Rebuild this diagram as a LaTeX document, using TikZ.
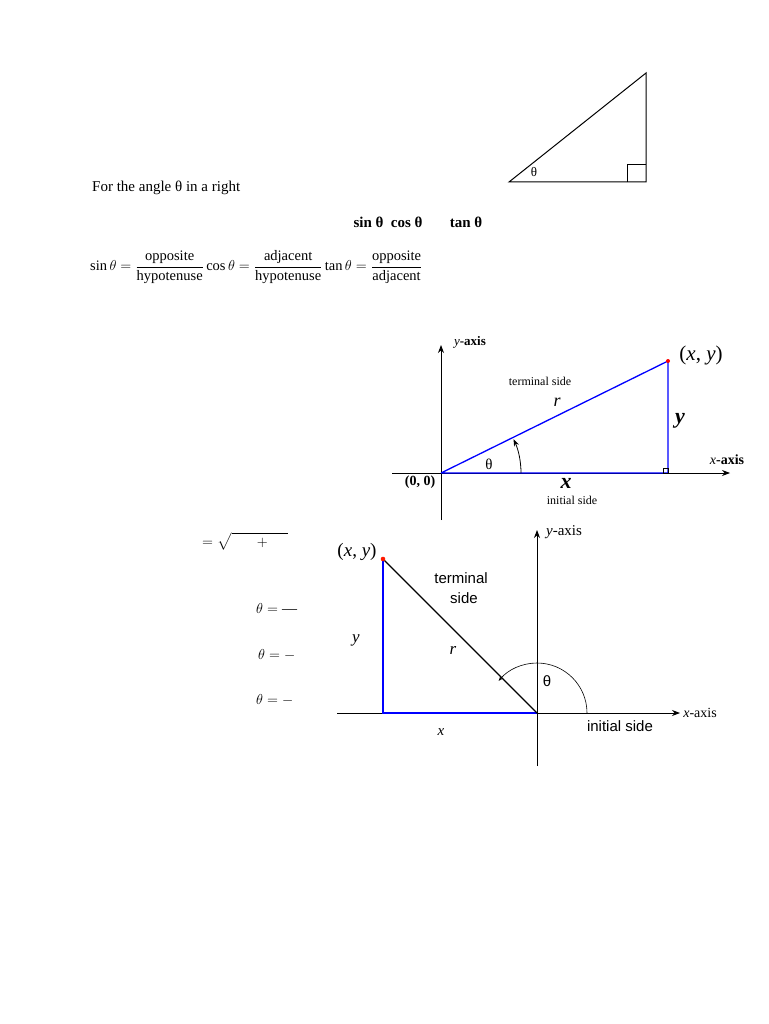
\documentclass[tikz,border=0pt]{standalone}
\usepackage{amsmath}
\usepackage{fontspec}
\setmainfont{Liberation Serif}
\newfontfamily\arialf{Liberation Sans}
\newcommand{\fs}[1]{\fontsize{#1}{#1}\selectfont}
\usetikzlibrary{arrows.meta}
\begin{document}
\begin{tikzpicture}[x=1pt,y=-1pt,
  ln/.style={line width=1pt},
  bl/.style={blue,line width=1.3pt},
  ax/.style={line width=0.8pt,-{Stealth[length=8pt,width=6pt]}},
  t/.style={inner sep=0pt}]
\useasboundingbox (0,0) rectangle (768,1024);
% triangle 1
\coordinate (A) at (509,182); \coordinate (B) at (646,73); \coordinate (C) at (646,182);
\draw[ln] (A) -- (B) -- (C) -- cycle;
\draw[line width=0.8pt] (627,182) -- (627,164) -- (646,164);
\node[t] (th1) at (534,172) {\fs{13}θ};
\node[t,anchor=west] (l1) at (92,188) {\fs{15}For the angle θ in a right};
\node[t] (sc) at (388,222) {\fs{15}\textbf{sin θ\ \ cos θ}};
\node[t] (tn) at (466,222) {\fs{15}\textbf{tan θ}};
\node[t,anchor=west] (f) at (90,267) {\fs{14.5}$\sin\theta=\dfrac{\text{opposite}}{\text{hypotenuse}}\cos\theta=\dfrac{\text{adjacent}}{\text{hypotenuse}}\tan\theta=\dfrac{\text{opposite}}{\text{adjacent}}$};
% diagram 2
\coordinate (O) at (441,473); \coordinate (P) at (668,361); \coordinate (Q) at (668,473);
\coordinate (ya0) at (441,520); \coordinate (ya1) at (441,345);
\coordinate (xa0) at (392,473); \coordinate (xa1) at (730,473);
\draw[ax] (ya0) -- (ya1);
\draw[ax] (xa0) -- (xa1);
\draw[bl] (O) -- (P) -- (Q) -- (O);
\draw[line width=0.6pt] (663,473) rectangle (668,468);
\fill[red] (P) circle (2pt);
\draw[line width=0.8pt,-{Stealth[length=7pt,width=5pt]}] (521,473) arc[start angle=0,end angle=-25,radius=80];
\node[t] (yax) at (470,342) {\fs{13}\itshape y\normalfont\textbf{-axis}};
\node[t] (ts) at (540,381) {\fs{12}terminal side};
\node[t] (r2) at (557,402) {\fs{18}\itshape r};
\node[t] (y2) at (680,421) {\fs{22}\bfseries\itshape y};
\node[t] (xax) at (727,460) {\fs{14}\itshape x\normalfont\textbf{-axis}};
\node[t] (th2) at (489,464) {\fs{15}θ};
\node[t] (oo) at (420,482) {\fs{14}\bfseries (0, 0)};
\node[t] (x2) at (566,483) {\fs{22}\bfseries\itshape x};
\node[t] (is) at (572,500) {\fs{12}initial side};
\node[t] (xy2) at (701,355) {\fs{21}(\textit{x}, \textit{y})};
% diagram 3
\coordinate (O3) at (537,713); \coordinate (P3) at (383,559); \coordinate (Q3) at (383,713);
\draw[ax] (537,766) -- (537,530);
\draw[ax] (337,713) -- (680,713);
\draw[bl] (P3) -- (Q3) -- (O3);
\draw[line width=1.3pt] (P3) -- (O3);
\fill[red!80!orange] (P3) circle (2.3pt);
\draw[line width=0.6pt,-{Stealth[length=5pt,width=4pt,open]}] (587,713) arc[start angle=0,end angle=-140,radius=50];
\node[t] (yax3) at (564,532) {\fs{15}\itshape y\upshape-axis};
\node[t] (xy3) at (357,552) {\fs{19}(\textit{x}, \textit{y})};
\node[t] (term) at (461,578) {\arialf\fs{15}terminal};
\node[t] (side) at (464,598) {\arialf\fs{15}side};
\node[t] (y3) at (356,640) {\fs{17}\itshape y};
\node[t] (r3) at (453,650) {\fs{17}\itshape r};
\node[t] (th3) at (547,681) {\arialf\fs{15}θ};
\node[t] (xax3) at (700,713) {\fs{14}\itshape x\upshape-axis};
\node[t] (is3) at (620,726) {\arialf\fs{15}initial side};
\node[t] (x3) at (441,732) {\fs{15}\itshape x};
\node[t,anchor=west] (sq) at (202,541) {\fs{15}$=\sqrt{\phantom{\;x^2\;}+\phantom{\;y^2}}$};
\node[t,anchor=west] (e1) at (256,608) {\fs{15}$\theta=\text{---}$};
\node[t,anchor=west] (e2) at (258,655) {\fs{15}$\theta=-$};
\node[t,anchor=west] (e3) at (256,700) {\fs{15}$\theta=-$};
\end{tikzpicture}
\end{document}
